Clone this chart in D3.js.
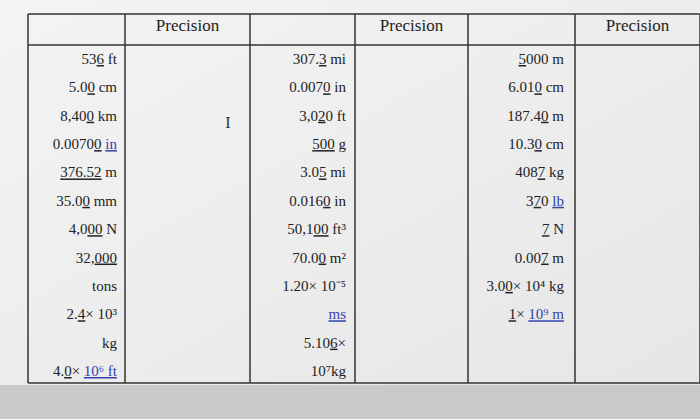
<!DOCTYPE html>
<html>
<head>
<meta charset="utf-8">
<script src="https://cdn.jsdelivr.net/npm/d3@7"></script>
<style>
  body { margin: 0; background: #fff; }
</style>
</head>
<body>
<div id="sheet"></div>
<script>
// [x] marks the underlined (last significant) digit
var headers = ["", "Precision", "", "Precision", "", "Precision"];
var colA = ["53[6] ft", "5.0[0] cm", "8,40[0] km", "0.0070[0] [in]", "[376.52] m", "35.0[0] mm",
            "4,0[00] N", "32,[000]", "tons", "2.[4]× 10³", "kg", "4.[0]× [10⁶ ft]"];
var colB = ["307.[3] mi", "0.007[0] in", "3,0[2]0 ft", "[500] g", "3.0[5] mi", "0.016[0] in",
            "50,1[00] ft³", "70.0[0] m²", "1.20× 10⁻⁵", "[ms]", "5.10[6]×", "10⁷kg"];
var colC = ["[5]000 m", "6.01[0] cm", "187.4[0] m", "10.3[0] cm", "408[7] kg", "3[7]0 [lb]",
            "[7] N", "0.00[7] m", "3.0[0]× 10⁴ kg", "[1]× [10⁹ m]", "", ""];

var width = 700, height = 419;
var svg = d3.select("#sheet").append("svg")
    .attr("width", width).attr("height", height)
    .style("font-family", "Liberation Serif");

var grad = svg.append("defs").append("linearGradient")
    .attr("id", "paper").attr("x1", "0%").attr("x2", "100%").attr("y1", "0%").attr("y2", "100%");
grad.append("stop").attr("offset", "0%").style("stop-color", "#f4f4f4");
grad.append("stop").attr("offset", "100%").style("stop-color", "#e6e6e6");

svg.append("rect").attr("width", width).attr("height", height).attr("fill", "#c9c9c9");
svg.append("rect").attr("x", 0).attr("y", 0).attr("width", width).attr("height", 385)
    .attr("fill", "url(#paper)");

var colEdges = [28, 125, 250, 355, 468, 575, 700];
var tableTop = 14, headBottom = 45, tableBottom = 383;

var g = svg.append("g");
colEdges.forEach(function(x) {
    g.append("line").attr("x1", x).attr("x2", x).attr("y1", tableTop).attr("y2", tableBottom)
        .attr("stroke", "#333").attr("stroke-width", 1.5);
});
[tableTop, headBottom, tableBottom].forEach(function(yy) {
    g.append("line").attr("x1", 28).attr("x2", 700).attr("y1", yy).attr("y2", yy)
        .attr("stroke", "#333").attr("stroke-width", 1.5);
});

headers.forEach(function(h, i) {
    if (!h) return;
    g.append("text")
        .attr("x", (colEdges[i] + colEdges[i + 1]) / 2)
        .attr("y", 31)
        .attr("text-anchor", "middle")
        .attr("font-size", 17)
        .attr("fill", "#222")
        .text(h);
});

var y = d3.scaleLinear().domain([0, 11]).range([64, 376]);

function addCol(list, rightX) {
    list.forEach(function(s, i) {
        if (!s) return;
        var t = g.append("text")
            .attr("x", rightX)
            .attr("y", y(i))
            .attr("text-anchor", "end")
            .attr("font-size", 15)
            .attr("fill", "#222");
        s.split(/(\[[^\]]*\])/).forEach(function(part) {
            if (!part) return;
            var under = part[0] === "[";
            t.append("tspan")
                .attr("text-decoration", under ? "underline" : null)
                .attr("fill", under && /[a-z]/i.test(part) && i > 2 ? "#3344aa" : null)
                .text(under ? part.slice(1, -1) : part);
        });
    });
}

addCol(colA, 117);
addCol(colB, 346);
addCol(colC, 564);

// text cursor in the photo
g.append("text").attr("x", 228).attr("y", 128).attr("text-anchor", "middle")
    .attr("font-size", 16).attr("fill", "#333").text("I");
</script>
</body>
</html>
